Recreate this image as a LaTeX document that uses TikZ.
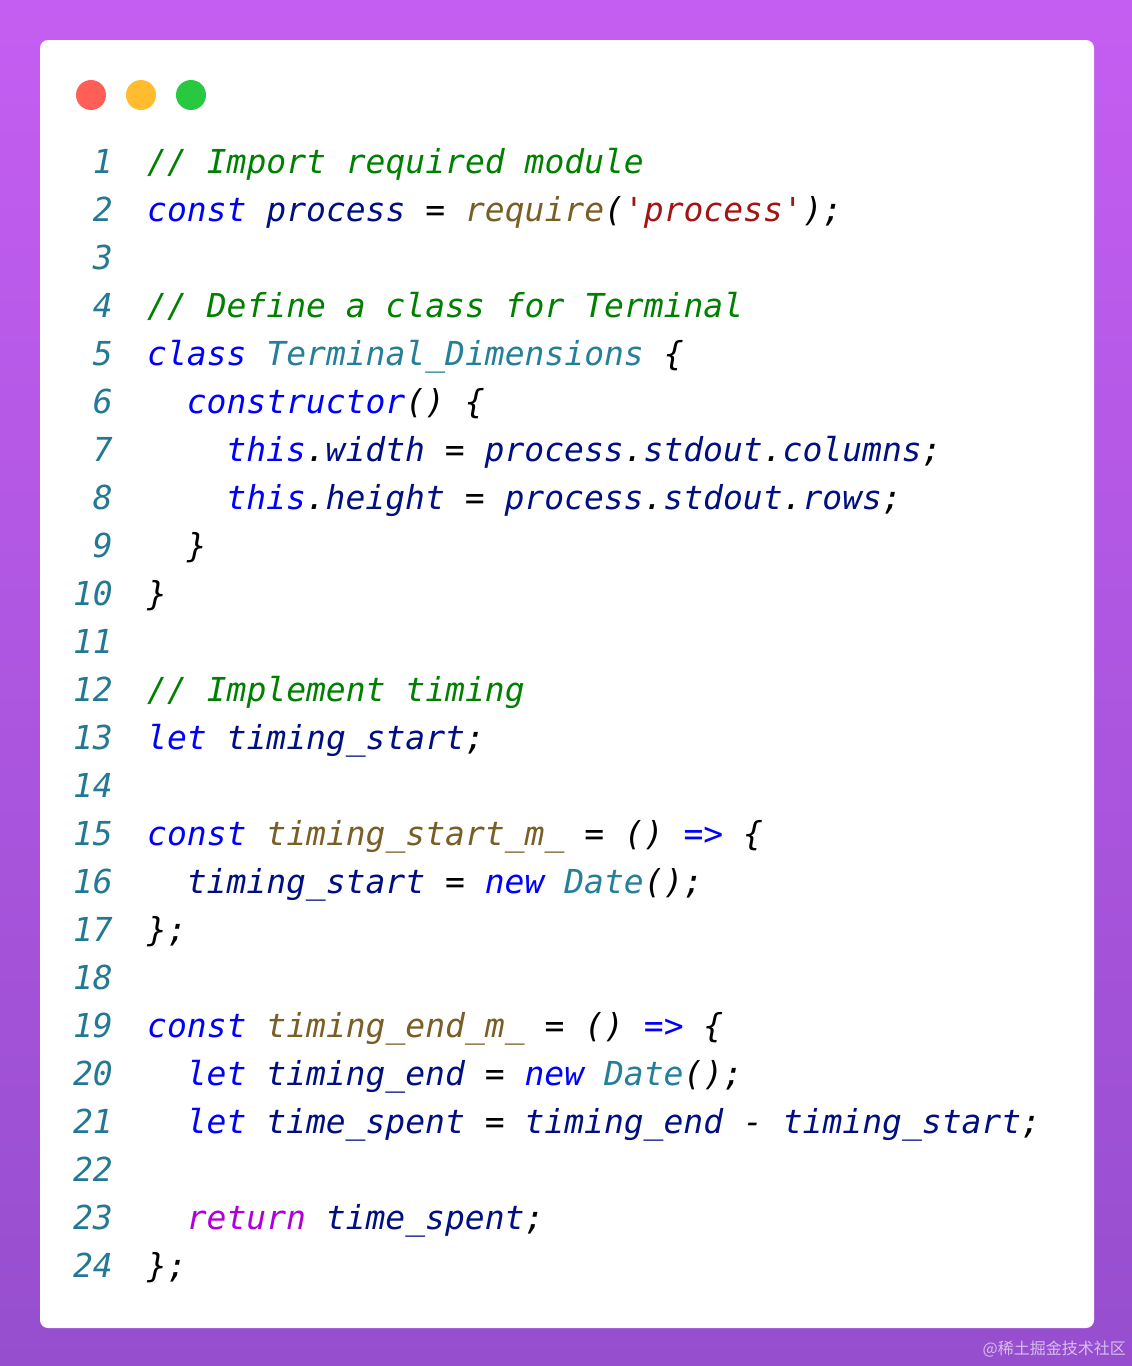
\documentclass[tikz,border=0pt]{standalone}
\usepackage{fontspec}
\setmonofont{DejaVu Sans Mono}
\newfontfamily\cjk{Noto Sans CJK SC}
\definecolor{ccomment}{HTML}{008000}
\definecolor{ckeyword}{HTML}{0000FF}
\definecolor{cvariable}{HTML}{001080}
\definecolor{cfunction}{HTML}{795E26}
\definecolor{cstring}{HTML}{A31515}
\definecolor{ctype}{HTML}{267F99}
\definecolor{creturn}{HTML}{AF00DB}
\definecolor{clinenum}{HTML}{237893}
\newcommand\Ccm[1]{\textcolor{ccomment}{#1}}
\newcommand\Ckw[1]{\textcolor{ckeyword}{#1}}
\newcommand\Cvr[1]{\textcolor{cvariable}{#1}}
\newcommand\Cfn[1]{\textcolor{cfunction}{#1}}
\newcommand\Cst[1]{\textcolor{cstring}{#1}}
\newcommand\Cty[1]{\textcolor{ctype}{#1}}
\newcommand\Crt[1]{\textcolor{creturn}{#1}}
\begin{document}
\begin{tikzpicture}[x=1pt,y=-1pt,
  codeline/.style={anchor=base west,inner sep=0pt,font=\ttfamily\itshape\fontsize{33}{33}\selectfont},
  lnum/.style={anchor=base east,inner sep=0pt,text=clinenum,font=\ttfamily\itshape\fontsize{33}{33}\selectfont}]
\useasboundingbox (0,0) rectangle (1132,1366);
\shade[top color={rgb,255:red,196;green,94;blue,242},bottom color={rgb,255:red,150;green,78;blue,206}] (0,0) rectangle (1132,1366);
\fill[white,rounded corners=8pt] (40,40) rectangle (1094,1328);
\fill[fill={rgb,255:red,255;green,95;blue,87}] (91,95) circle (15);
\fill[fill={rgb,255:red,254;green,188;blue,46}] (141,95) circle (15);
\fill[fill={rgb,255:red,40;green,200;blue,64}] (191,95) circle (15);
\foreach \n in {1,...,24} {
  \node[lnum] (ln\n) at (113,{173+48*(\n-1)}) {\n};
}
\def\cx#1{147+19.8*#1}
\node[codeline] (c1) at (147,173) {\Ccm{// Import required module}};
\node[codeline] (c2) at (147,221) {\Ckw{const} \Cvr{process} = \Cfn{require}(\Cst{'process'});};
\node[codeline] (c4) at (147,317) {\Ccm{// Define a class for Terminal}};
\node[codeline] (c5) at (147,365) {\Ckw{class} \Cty{Terminal\_Dimensions} \{};
\node[codeline] (c6) at (186.6,413) {\Ckw{constructor}() \{};
\node[codeline] (c7) at (226.2,461) {\Ckw{this}.\Cvr{width} = \Cvr{process}.\Cvr{stdout}.\Cvr{columns};};
\node[codeline] (c8) at (226.2,509) {\Ckw{this}.\Cvr{height} = \Cvr{process}.\Cvr{stdout}.\Cvr{rows};};
\node[codeline] (c9) at (186.6,557) {\}};
\node[codeline] (c10) at (147,605) {\}};
\node[codeline] (c12) at (147,701) {\Ccm{// Implement timing}};
\node[codeline] (c13) at (147,749) {\Ckw{let} \Cvr{timing\_start};};
\node[codeline] (c15) at (147,845) {\Ckw{const} \Cfn{timing\_start\_m\_} = () \Ckw{=>} \{};
\node[codeline] (c16) at (186.6,893) {\Cvr{timing\_start} = \Ckw{new} \Cty{Date}();};
\node[codeline] (c17) at (147,941) {\};};
\node[codeline] (c19) at (147,1037) {\Ckw{const} \Cfn{timing\_end\_m\_} = () \Ckw{=>} \{};
\node[codeline] (c20) at (186.6,1085) {\Ckw{let} \Cvr{timing\_end} = \Ckw{new} \Cty{Date}();};
\node[codeline] (c21) at (186.6,1133) {\Ckw{let} \Cvr{time\_spent} = \Cvr{timing\_end} - \Cvr{timing\_start};};
\node[codeline] (c23) at (186.6,1229) {\Crt{return} \Cvr{time\_spent};};
\node[codeline] (c24) at (147,1277) {\};};
\node[anchor=base east,inner sep=0pt,text={rgb,255:red,215;green,190;blue,235},font=\cjk\fontsize{16}{16}\selectfont] (wm) at (1126,1354) {@稀土掘金技术社区};
\end{tikzpicture}
\end{document}
